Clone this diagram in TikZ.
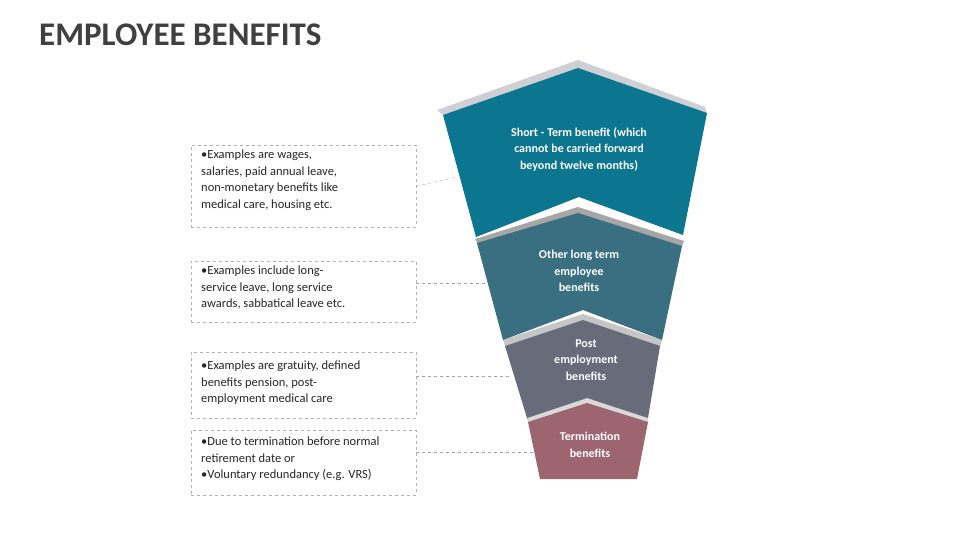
\documentclass[tikz,border=0pt]{standalone}
\usepackage{fontspec}
\setmainfont{Carlito}
\begin{document}
\begin{tikzpicture}[x=1pt,y=-1pt,
  seg/.style={draw=none},
  lbl/.style={text=white,font=\bfseries\fontsize{12}{16.5}\selectfont,align=center},
  box/.style={draw=black!30,dashed,minimum width=225pt,anchor=north west},
  btxt/.style={anchor=north west,align=left,font=\fontsize{12.5}{16.5}\selectfont,text=black!85,inner sep=0pt},
  conn/.style={draw=black!35,dashed}]
\useasboundingbox (0,0) rectangle (960,540);
\node[anchor=west,font=\bfseries\fontsize{33}{36}\selectfont,text=black!75,inner sep=0pt] (title) at (39,35) {EMPLOYEE BENEFITS};
% shadows
\fill[black!5!blue!8!gray!35] (578,60) -- (705,107) -- (707,115) -- (443,115) -- (437,110) -- cycle;
\fill[gray!70] (578,207) -- (684,241) -- (682,246) -- (477,243) -- (475,239) -- cycle;
\fill[gray!45] (583,314) -- (662,340) -- (660,346) -- (505,346) -- (503,340) -- cycle;
\fill[gray!30] (587,398) -- (648,418) -- (648,422) -- (528,422) -- (526,418) -- cycle;
% shapes
\fill[fill={rgb,255:red,12;green,117;blue,143}] (578,68) -- (707,113) -- (683,235) -- (579,197) -- (476,237) -- (443,115) -- cycle;
\fill[fill={rgb,255:red,58;green,111;blue,130}] (578,213) -- (682,246) -- (662,340) -- (583,310) -- (503,340) -- (477,243) -- cycle;
\fill[fill={rgb,255:red,103;green,107;blue,122}] (583,320) -- (660,346) -- (648,418) -- (587,398) -- (527,418) -- (505,346) -- cycle;
\fill[fill={rgb,255:red,156;green,101;blue,112}] (587,403) -- (648,422) -- (637,479) -- (540,479) -- (528,422) -- cycle;
\node[lbl] (s1) at (579,149) {Short - Term benefit (which\\cannot be carried forward\\beyond twelve months)};
\node[lbl] (s2) at (579,271) {Other long term\\employee\\benefits};
\node[lbl] (s3) at (586,360) {Post\\employment\\benefits};
\node[lbl] (s4) at (590,445) {Termination\\benefits};
% boxes
\node[box,minimum height=82pt] (b1) at (191,145) {};
\node[box,minimum height=61pt] (b2) at (191,261) {};
\node[box,minimum height=66pt] (b3) at (191,352) {};
\node[box,minimum height=65pt] (b4) at (191,430) {};
\node[btxt] (t1) at (201,150) {•Examples are wages,\\salaries, paid annual leave,\\non-monetary benefits like\\medical care, housing etc.};
\node[btxt] (t2) at (201,266) {•Examples include long-\\service leave, long service\\awards, sabbatical leave etc.};
\node[btxt] (t3) at (201,361) {•Examples are gratuity, defined\\benefits pension, post-\\employment medical care};
\node[btxt] (t4) at (201,437) {•Due to termination before normal\\retirement date or\\•Voluntary redundancy (e.g. VRS)};
\coordinate (c1) at (457,177);
\coordinate (c2) at (488,283);
\coordinate (c3) at (511,376);
\coordinate (c4) at (533,452);
\draw[conn] (b1.east) -- (c1);
\draw[conn] (b2.east |- c2) -- (c2);
\draw[conn] (b3.east |- c3) -- (c3);
\draw[conn] (b4.east |- c4) -- (c4);
\end{tikzpicture}
\end{document}
